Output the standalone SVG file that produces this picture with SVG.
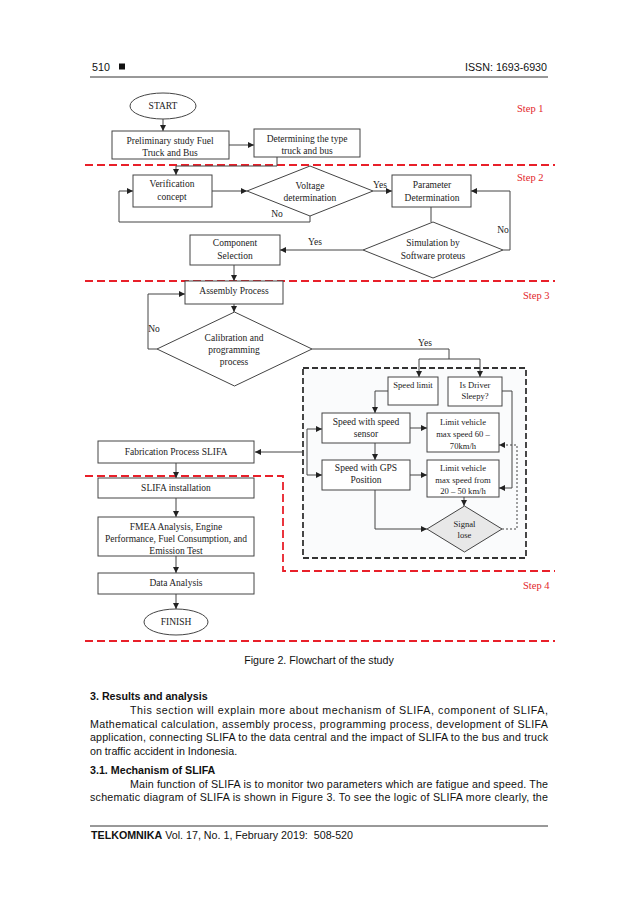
<svg xmlns="http://www.w3.org/2000/svg" width="638" height="902" viewBox="0 0 638 902">
<defs>
<marker id="ah" markerUnits="userSpaceOnUse" markerWidth="6" markerHeight="6" refX="6" refY="3" orient="auto"><path d="M0,0 L6,3 L0,6 z" fill="#222"/></marker>
<style>
.bx{fill:#fff;stroke:#444;stroke-width:1}
.dm{fill:#fff;stroke:#444;stroke-width:1}
.t{font-family:"Liberation Serif","Times New Roman",serif;font-size:9.5px;fill:#222;text-anchor:middle}
.ts{font-family:"Liberation Serif","Times New Roman",serif;font-size:8.6px;fill:#222;text-anchor:middle}
.st{font-family:"Liberation Serif","Times New Roman",serif;font-size:10.5px;fill:#e3262b}
.c{fill:none;stroke:#444;stroke-width:1}
.ca{fill:none;stroke:#444;stroke-width:1;marker-end:url(#ah)}
.red{fill:none;stroke:#e8202a;stroke-width:1.8;stroke-dasharray:8,4}
.b{font-family:"Liberation Sans",Arial,sans-serif;font-size:10.7px;fill:#111}
.bb{font-family:"Liberation Sans",Arial,sans-serif;font-size:10.7px;fill:#111;font-weight:bold}
</style>
</defs>
<rect width="638" height="902" fill="#fff"/>

<g id="header">
<text class="b" x="92" y="71">510</text>
<rect x="119" y="63.5" width="6" height="6" fill="#111"/>
<text class="b" x="547" y="71" text-anchor="end">ISSN: 1693-6930</text>
<line x1="90" y1="77" x2="548" y2="77" stroke="#333" stroke-width="1"/>
</g>

<g id="steps">
<path class="red" d="M85,165 H555"/>
<path class="red" d="M85,281 H555"/>
<path class="red" d="M85,476 H283 V571 H555"/>
<path class="red" d="M85,641 H555"/>
<text class="st" x="517" y="112">Step 1</text>
<text class="st" x="517" y="181">Step 2</text>
<text class="st" x="523" y="299">Step 3</text>
<text class="st" x="523" y="589">Step 4</text>
</g>

<g id="subsystem">
<rect x="303" y="368" width="223" height="190" fill="#fafbfc" stroke="#333" stroke-width="1.8" stroke-dasharray="6,3"/>
</g>

<g id="connectors">
<path class="ca" d="M163,119 V131"/>
<path class="ca" d="M229,145 H254"/>
<path class="ca" d="M277,157 V166 H176 V175"/>
<path class="ca" d="M212,191 H247"/>
<path class="ca" d="M373,191 H392"/>
<path class="ca" d="M310,216 V222 H119 V191 H133"/>
<path class="c" d="M431,207 V222"/>
<path class="ca" d="M503,250 H510 V191 H471"/>
<path class="ca" d="M363,250 H280"/>
<path class="ca" d="M234,265 V281"/>
<path class="ca" d="M234,304 V312"/>
<path class="ca" d="M157,349 H148 V294 H185"/>
<path class="c" d="M312,349 H449 V359"/>
<path class="c" d="M419,359 H480"/>
<path class="ca" d="M419,359 V377"/>
<path class="ca" d="M480,359 V377"/>
<path class="ca" d="M388,391 H375 V413"/>
<path class="ca" d="M502,391 H512 V488 H499"/>
<path class="ca" d="M410,428 H427"/>
<path class="ca" d="M410,475 H427"/>
<path class="ca" d="M375,443 V460"/>
<path class="ca" d="M375,490 V529 H427"/>
<path class="ca" d="M464,497 V506"/>
<path class="ca" d="M502,529 H517 V445 H499" stroke-dasharray="2,2" stroke-width="0.8"/>
<path class="ca" d="M303,452 H255"/>
<path class="c" d="M307,429 V475"/>
<path class="ca" d="M307,429 H322"/>
<path class="ca" d="M307,475 H322"/>
<path class="ca" d="M176,463 V478"/>
<path class="ca" d="M176,498 V517"/>
<path class="ca" d="M176,556 V573"/>
<path class="ca" d="M176,594 V609"/>
</g>

<g id="labels">
<text class="t" x="380" y="188">Yes</text>
<text class="t" x="277" y="217">No</text>
<text class="t" x="503" y="233">No</text>
<text class="t" x="315" y="245">Yes</text>
<text class="t" x="154" y="332">No</text>
<text class="t" x="425" y="346">Yes</text>
</g>

<g id="start"><ellipse cx="163" cy="106" rx="33" ry="13" class="bx"/><text class="t" x="163" y="109">START</text></g>
<g id="preliminary"><rect class="bx" x="112" y="131" width="117" height="28"/><text class="t" x="170" y="144">Preliminary study Fuel</text><text class="t" x="170" y="156">Truck and Bus</text></g>
<g id="determining"><rect class="bx" x="254" y="129" width="106" height="28"/><text class="t" x="307" y="142">Determining the type</text><text class="t" x="307" y="154">truck and bus</text></g>
<g id="verification"><rect class="bx" x="133" y="175" width="79" height="32"/><text class="t" x="172" y="187">Verification</text><text class="t" x="172" y="200">concept</text></g>
<g id="voltage"><polygon class="dm" points="247,191 310,166 373,191 310,216"/><text class="t" x="310" y="189">Voltage</text><text class="t" x="310" y="201">determination</text></g>
<g id="parameter"><rect class="bx" x="392" y="175" width="79" height="32"/><text class="t" x="432" y="188">Parameter</text><text class="t" x="432" y="201">Determination</text></g>
<g id="simulation"><polygon class="dm" points="363,250 433,222 503,250 433,278"/><text class="t" x="433" y="246">Simulation by</text><text class="t" x="433" y="259">Software proteus</text></g>
<g id="component"><rect class="bx" x="190" y="235" width="90" height="30"/><text class="t" x="235" y="246">Component</text><text class="t" x="235" y="259">Selection</text></g>
<g id="assembly"><rect class="bx" x="185" y="281" width="98" height="23"/><text class="t" x="234" y="294">Assembly Process</text></g>
<g id="calibration"><polygon class="dm" points="157,349 234.5,312 312,349 234.5,386"/><text class="t" x="234" y="341">Calibration and</text><text class="t" x="234" y="353">programming</text><text class="t" x="234" y="365">process</text></g>
<g id="speedlimit"><rect class="bx" x="388" y="377" width="50" height="28"/><text class="ts" x="413" y="388">Speed limit</text></g>
<g id="sleepy"><rect class="bx" x="448" y="377" width="54" height="29"/><text class="ts" x="475" y="388">Is Driver</text><text class="ts" x="475" y="399">Sleepy?</text></g>
<g id="speedsensor"><rect class="bx" x="322" y="413" width="88" height="30"/><text class="t" x="366" y="425">Speed with speed</text><text class="t" x="366" y="437">sensor</text></g>
<g id="limit60"><rect class="bx" x="427" y="413" width="72" height="39"/><text class="ts" x="463" y="425">Limit vehicle</text><text class="ts" x="463" y="437">max speed 60 –</text><text class="ts" x="463" y="449">70km/h</text></g>
<g id="gps"><rect class="bx" x="322" y="460" width="88" height="30"/><text class="t" x="366" y="471">Speed with GPS</text><text class="t" x="366" y="483">Position</text></g>
<g id="limit20"><rect class="bx" x="427" y="460" width="72" height="37"/><text class="ts" x="463" y="471">Limit vehicle</text><text class="ts" x="463" y="483">max speed from</text><text class="ts" x="463" y="494">20 – 50 km/h</text></g>
<g id="signal"><polygon points="427,529 464.5,506 502,529 464.5,552" fill="#e8e8e8" stroke="#444" stroke-width="1"/><text class="ts" x="464.5" y="527">Signal</text><text class="ts" x="464.5" y="538">lose</text></g>
<g id="fabrication"><rect class="bx" x="98" y="441" width="156" height="22"/><text class="t" x="176" y="455">Fabrication Process SLIFA</text></g>
<g id="installation"><rect class="bx" x="98" y="478" width="156" height="20"/><text class="t" x="176" y="491">SLIFA installation</text></g>
<g id="fmea"><rect class="bx" x="98" y="517" width="156" height="39"/><text class="t" x="176" y="530">FMEA Analysis, Engine</text><text class="t" x="176" y="542">Performance, Fuel Consumption, and</text><text class="t" x="176" y="554">Emission Test</text></g>
<g id="data"><rect class="bx" x="98" y="573" width="156" height="21"/><text class="t" x="176" y="586">Data Analysis</text></g>
<g id="finish"><ellipse cx="176" cy="622" rx="32" ry="13" class="bx"/><text class="t" x="176" y="625">FINISH</text></g>

<g id="body">
<text class="b" x="319" y="664" text-anchor="middle">Figure 2. Flowchart of the study</text>
<text class="bb" x="90" y="700">3. Results and analysis</text>
<text class="b" x="130" y="714" textLength="418" lengthAdjust="spacing">This section will explain more about mechanism of SLIFA, component of SLIFA,</text>
<text class="b" x="90" y="727.5" textLength="458" lengthAdjust="spacing">Mathematical calculation, assembly process, programming process, development of SLIFA</text>
<text class="b" x="90" y="741" textLength="458" lengthAdjust="spacing">application, connecting SLIFA to the data central and the impact of SLIFA to the bus and truck</text>
<text class="b" x="90" y="754.5">on traffic accident in Indonesia.</text>
<text class="bb" x="90" y="774">3.1. Mechanism of SLIFA</text>
<text class="b" x="130" y="787.5" textLength="418" lengthAdjust="spacing">Main function of SLIFA is to monitor two parameters which are fatigue and speed. The</text>
<text class="b" x="90" y="801" textLength="458" lengthAdjust="spacing">schematic diagram of SLIFA is shown in Figure 3. To see the logic of SLIFA more clearly, the</text>
</g>

<g id="footer">
<line x1="90" y1="826" x2="548" y2="826" stroke="#333" stroke-width="1"/>
<text class="b" x="91" y="839"><tspan font-weight="bold">TELKOMNIKA</tspan> Vol. 17, No. 1, February 2019:&#160; 508-520</text>
</g>
</svg>
